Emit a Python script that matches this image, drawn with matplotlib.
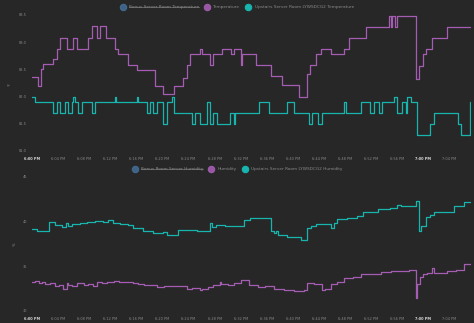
import datetime as dt
import matplotlib
matplotlib.use("Agg")
import matplotlib.pyplot as plt
import matplotlib.dates as mdates
from matplotlib.lines import Line2D

# minutes after 6:00 PM
t_temp = [0.0, 0.87, 1.33, 1.69, 3.27, 3.78, 4.29, 5.32, 6.34, 6.95,
          8.64, 9.2, 9.9, 10.43, 11.35, 12.73, 13.24, 14.77, 16.05, 18.86,
          20.1, 21.7, 23.2, 23.7, 24.2, 25.8, 26.0, 27.3, 27.8, 29.1,
          30.5, 31.0, 32.0, 32.2, 34.3, 36.6, 38.4, 41.0, 42.2, 42.6,
          43.5, 44.3, 45.8, 47.9, 48.6, 51.2, 54.8, 55.0, 55.2, 55.6,
          56.0, 58.85, 59.4, 59.9, 60.4, 61.4, 63.7, 67.4]
temp = [82.36, 82.19, 82.5, 82.6, 82.69, 82.87, 83.07, 82.87, 83.07, 82.88,
        83.07, 83.29, 83.07, 83.29, 83.07, 82.88, 82.78, 82.59, 82.48, 82.19,
        82.04, 82.19, 82.35, 82.59, 82.78, 82.88, 82.78, 82.59, 82.78, 82.88,
        82.78, 82.88, 82.59, 82.78, 82.59, 82.38, 82.22, 82.0, 82.41, 82.59,
        82.78, 82.88, 82.78, 82.88, 83.07, 83.28, 83.48, 83.28, 83.48, 83.28,
        83.48, 82.33, 82.56, 82.78, 82.88, 83.07, 83.28, 83.28]

t_up = [0, 0.46, 3.27, 3.78, 4.3, 5.06, 5.57, 6.1, 6.3, 6.6,
        7.1, 7.6, 9.15, 9.66, 12.7, 12.9, 16.1, 16.3, 17.6, 18.1,
        18.6, 19.1, 20.1, 20.7, 21.4, 21.7, 24.5, 25.0, 25.8, 26.8,
        27.3, 27.8, 28.3, 30.4, 31.0, 31.2, 34.8, 36.4, 39.1, 40.2,
        42.5, 43.0, 43.8, 44.5, 47.9, 48.1, 50.4, 51.9, 52.5, 53.2,
        53.7, 55.5, 56.0, 56.8, 57.3, 57.5, 58.1, 59.05, 61.1, 61.6,
        65.3, 65.8, 67.1, 67.4]
temp_up = [82.0, 81.9, 81.7, 81.9, 81.7, 81.9, 81.7, 81.9, 82.0, 81.9,
           81.7, 81.9, 81.7, 81.9, 82.0, 81.9, 82.0, 81.9, 81.7, 81.9,
           81.7, 81.9, 81.5, 81.9, 82.0, 81.7, 81.5, 81.7, 81.5, 81.9,
           81.5, 81.7, 81.5, 81.7, 81.5, 81.7, 81.9, 81.7, 81.9, 81.7,
           81.5, 81.7, 81.5, 81.7, 81.9, 81.7, 81.9, 81.7, 81.9, 81.7,
           81.9, 82.0, 81.7, 81.9, 81.7, 82.0, 81.9, 81.3, 81.5, 81.7,
           81.5, 81.3, 81.9, 81.9]

t_hum = [0, 0.5, 1.0, 1.5, 2.0, 2.8, 3.5, 4.2, 4.8, 5.3,
         5.5, 6.2, 6.9, 7.9, 8.6, 9.3, 9.9, 10.7, 11.5, 12.5,
         13.4, 14.5, 15.5, 16.3, 17.1, 18.0, 19.1, 20.3, 21.7, 22.6,
         23.7, 24.6, 25.8, 26.1, 27.0, 27.8, 28.8, 29.0, 30.0, 31.0,
         32.0, 33.3, 34.6, 35.8, 37.1, 38.7, 40.2, 41.7, 42.2, 43.2,
         44.5, 44.9, 45.8, 46.8, 47.9, 49.2, 50.4, 52.0, 53.5, 55.0,
         56.3, 57.8, 58.85, 59.0, 59.5, 59.9, 60.6, 61.4, 61.7, 62.6,
         63.7, 65.0, 66.3, 67.4]
hum = [33.3, 33.35, 33.1, 33.2, 33.0, 33.1, 32.8, 32.95, 32.5, 33.1,
       32.9, 32.8, 33.1, 32.9, 33.0, 32.85, 33.2, 33.1, 33.2, 33.35,
       33.2, 33.25, 33.1, 33.0, 32.9, 32.95, 32.7, 32.75, 32.75, 32.8,
       32.5, 32.6, 32.3, 32.5, 32.7, 32.9, 33.3, 33.0, 32.95, 33.1,
       33.45, 32.9, 32.7, 32.75, 32.5, 32.3, 32.2, 32.4, 33.1, 33.0,
       32.35, 32.5, 33.0, 33.3, 33.7, 33.8, 34.1, 34.15, 34.4, 34.45,
       34.5, 34.55, 31.4, 33.0, 33.8, 34.1, 34.2, 34.8, 34.2, 34.3,
       34.45, 34.6, 35.3, 35.3]

t_hum_up = [0, 0.8, 1.2, 2.66, 3.5, 4.6, 5.2, 5.5, 6.1, 7.4,
            8.4, 9.7, 10.9, 11.7, 12.4, 13.5, 14.7, 15.5, 17.0, 18.6,
            20.1, 20.7, 22.4, 25.3, 27.3, 27.6, 28.2, 29.6, 31.0, 32.5,
            33.5, 36.6, 37.1, 37.4, 37.7, 39.1, 41.2, 42.2, 42.8, 43.6,
            45.8, 46.3, 46.8, 48.3, 49.8, 50.7, 52.5, 53.0, 54.9, 56.0,
            56.6, 58.9, 59.4, 59.7, 60.4, 61.0, 61.7, 64.7, 66.3, 67.4]
hum_up = [39.2, 39.0, 38.9, 40.0, 39.6, 39.45, 39.8, 39.55, 39.7, 39.85,
          39.95, 40.1, 40.0, 40.15, 39.9, 39.75, 39.6, 39.3, 38.9, 38.7,
          38.85, 38.5, 39.1, 38.95, 39.8, 39.35, 39.6, 39.55, 39.5, 40.2,
          40.45, 39.0, 38.7, 38.9, 38.5, 38.3, 37.95, 39.25, 39.55, 39.7,
          39.3, 39.9, 40.3, 40.45, 40.6, 41.05, 41.1, 41.4, 41.55, 41.9,
          41.7, 42.3, 38.9, 39.5, 40.5, 40.7, 41.05, 41.8, 42.2, 42.2]

temp_labels = ["Bonus Server Room Temperature", "Temperature",
               "Upstairs Server Room LYWSDCG2 Temperature"]
hum_labels = ["Bonus Room Server Humidity", "Humidity",
              "Upstairs Server Room LYWSDCG2 Humidity"]

BG = "#272727"
BLUE = "#44739e"
PURPLE = "#a55db3"
TEAL = "#17b5ae"
TXT = "#8a8a8a"

start = dt.datetime(2023, 1, 1, 18, 0)
def times(mins):
    return [start + dt.timedelta(minutes=m) for m in mins]

fig = plt.figure(figsize=(4.74, 3.23), dpi=100, facecolor=BG)
W, H = 474, 323
ax1 = fig.add_axes([32 / W, 1 - 151 / H, 439.5 / W, 136 / H])
ax2 = fig.add_axes([32 / W, 1 - 311 / H, 439.5 / W, 134 / H])

ax1.step(times(t_temp), temp, where="post", color=PURPLE, lw=0.9)
ax1.step(times(t_up), temp_up, where="post", color=TEAL, lw=0.9)
ax1.set_ylim(81.0, 83.5)
ax1.set_yticks([81.0, 81.5, 82.0, 82.5, 83.0, 83.5])
ax1.set_ylabel("°F", fontsize=2.6, color=TXT)
ax1.yaxis.set_label_coords(-0.046, 0.49)

ax2.step(times(t_hum), hum, where="post", color=PURPLE, lw=0.9)
ax2.step(times(t_hum_up), hum_up, where="post", color=TEAL, lw=0.9)
ax2.set_ylim(30, 45)
ax2.set_yticks([30, 35, 40, 45])
ax2.set_ylabel("%", fontsize=2.6, color=TXT)
ax2.yaxis.set_label_coords(-0.034, 0.5)

for ax in (ax1, ax2):
    ax.set_facecolor(BG)
    for s in ax.spines.values():
        s.set_visible(False)
    ax.set_xlim(start, start + dt.timedelta(minutes=67.4))
    ax.xaxis.set_major_locator(mdates.MinuteLocator(byminute=range(0, 60, 4)))
    ax.xaxis.set_major_formatter(mdates.DateFormatter("%-I:%M %p"))
    ax.tick_params(length=0, labelsize=2.5, colors=TXT, pad=3.5)
    ax.tick_params(axis="x", pad=4.5)

def make_legend(ax, labels, ypos):
    handles = [Line2D([], [], ls="none", marker="o", ms=4.6, mew=0.8,
                      mfc=c, mec=c, alpha=a)
               for c, a in ((BLUE, 0.8), (PURPLE, 0.9), (TEAL, 1.0))]
    leg = ax.legend(handles, labels, ncol=3, loc="center",
                    bbox_to_anchor=(0.5, ypos), bbox_transform=fig.transFigure,
                    frameon=False, fontsize=3.1, handlelength=1.2,
                    handletextpad=0.8, columnspacing=1.3, borderpad=0)
    for t in leg.get_texts():
        t.set_color(TXT)
    return leg

leg1 = make_legend(ax1, temp_labels, 1 - 7 / H)
leg2 = make_legend(ax2, hum_labels, 1 - 169 / H)

fig.canvas.draw()
for ax in (ax1, ax2):
    for lab in ax.get_xticklabels():
        if lab.get_text().endswith(":00 PM"):
            lab.set_fontweight("bold")
            lab.set_color("#d8d8d8")

# strike-through on hidden series
inv = fig.transFigure.inverted()
for leg in (leg1, leg2):
    bb = leg.get_texts()[0].get_window_extent().transformed(inv)
    ym = (bb.y0 + bb.y1) / 2
    fig.add_artist(Line2D([bb.x0, bb.x1], [ym, ym], color=TXT, lw=0.4,
                          transform=fig.transFigure))

fig.savefig("out.png", dpi=100, facecolor=BG)
